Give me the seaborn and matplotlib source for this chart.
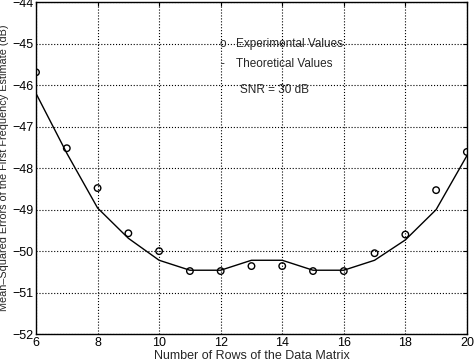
import numpy as np
import pandas as pd
import matplotlib
matplotlib.use('Agg')
import matplotlib.pyplot as plt
import seaborn as sns

# data
rows = [6, 7, 8, 9, 10, 11, 12, 13, 14, 15, 16, 17, 18, 19, 20]
experimental = [-45.69, -47.52, -48.48, -49.57, -50.0, -50.48, -50.48, -50.36,
                -50.36, -50.48, -50.48, -50.05, -49.6, -48.53, -47.61]
theoretical = [-46.2, -47.64, -48.96, -49.69, -50.22, -50.46, -50.46, -50.22,
               -50.22, -50.46, -50.46, -50.22, -49.73, -49.0, -47.7]
xticks = [6, 8, 10, 12, 14, 16, 18, 20]
yticks = [-52, -51, -50, -49, -48, -47, -46, -45, -44]

df = pd.DataFrame({'rows': rows, 'exp': experimental, 'theo': theoretical})

sns.set_style('white')
plt.rcParams['font.family'] = ['Liberation Sans', 'DejaVu Sans']
plt.rcParams['axes.unicode_minus'] = True

fig = plt.figure(figsize=(4.74, 3.62), dpi=100)
ax = fig.add_axes([0.076, 0.077, 0.909, 0.917])

sns.lineplot(data=df, x='rows', y='theo', color='black', linewidth=1.0, ax=ax)
sns.scatterplot(data=df, x='rows', y='exp', marker='o', s=22, facecolor='none',
                edgecolor='black', linewidth=1.0, ax=ax)

ax.set_xlim(6, 20)
ax.set_ylim(-52, -44)
ax.set_xticks(xticks)
ax.set_yticks(yticks)
ax.grid(True, linestyle=':', color='black', linewidth=0.8)
ax.tick_params(direction='in', length=3, labelsize=9, colors='black',
               right=True, top=True, pad=2)
for s in ax.spines.values():
    s.set_color('black')
    s.set_linewidth(1.0)

ax.set_xlabel('Number of Rows of the Data Matrix', fontsize=9, labelpad=1)
ax.set_ylabel('Mean\u2013Squared Errors of the First Frequency Estimate (dB)',
              fontsize=7.8, labelpad=2)

ax.text(12.07, -45.0, 'o', fontsize=8.5, va='center', ha='center')
ax.text(12.5, -45.0, 'Experimental Values', fontsize=8.5, va='center')
ax.text(12.07, -45.48, '-', fontsize=8.5, va='center', ha='center')
ax.text(12.5, -45.48, 'Theoretical Values', fontsize=8.5, va='center')
ax.text(12.62, -46.12, 'SNR = 30 dB', fontsize=8.5, va='center')

fig.savefig('out.png', dpi=100)
